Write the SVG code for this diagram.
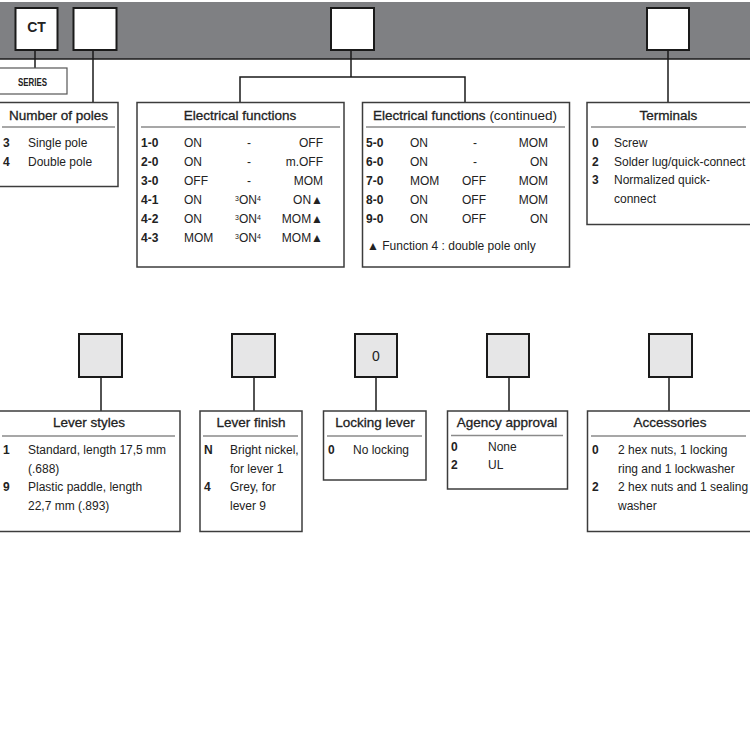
<svg xmlns="http://www.w3.org/2000/svg" width="750" height="750" viewBox="0 0 750 750">
<style>
.band{fill:#7f8083}
.topbox{fill:#fff;stroke:#1a1a1a;stroke-width:2}
.selbox{fill:#e6e6e7;stroke:#1a1a1a;stroke-width:2}
.panel{fill:#fff;stroke:#3c3c3c;stroke-width:1.5}
.rule{stroke:#8a8a8a;stroke-width:1.5}
.conn{stroke:#1a1a1a;stroke-width:1.5;fill:none}
text{font-family:"Liberation Sans",Arial,sans-serif;fill:#222;font-size:12px}
.h{font-size:13.5px;text-anchor:middle;stroke:#222;stroke-width:0.3}
.lt{stroke:none}
.c{font-weight:bold}
.r{text-anchor:end}
.m{text-anchor:middle}
.sup{font-size:7px}
</style>
<rect class="band" x="0" y="2" width="750" height="57"/>
<line x1="0" y1="59" x2="750" y2="59" stroke="#1a1a1a" stroke-width="1.5"/>

<g id="connectors">
<line class="conn" x1="35" y1="50" x2="35" y2="68"/>
<line class="conn" x1="93" y1="50" x2="93" y2="102.5"/>
<line class="conn" x1="351" y1="50" x2="351" y2="77"/>
<path class="conn" d="M240,102.5 V77 H465 V102.5"/>
<line class="conn" x1="668" y1="50" x2="668" y2="102.5"/>
<line class="conn" x1="101" y1="377" x2="101" y2="411"/>
<line class="conn" x1="254" y1="377" x2="254" y2="411"/>
<line class="conn" x1="376" y1="377" x2="376" y2="411"/>
<line class="conn" x1="509" y1="377" x2="509" y2="411"/>
<line class="conn" x1="669" y1="377" x2="669" y2="411"/>
</g>

<g id="box-ct"><rect class="topbox" x="15.5" y="8" width="42" height="42"/><text x="36.5" y="32" class="c m" style="font-size:14px">CT</text></g>
<g id="box-poles"><rect class="topbox" x="73.5" y="8" width="43" height="42"/></g>
<g id="box-functions"><rect class="topbox" x="331" y="8" width="43" height="42"/></g>
<g id="box-terminals"><rect class="topbox" x="647" y="8" width="42" height="42"/></g>

<g id="series"><rect x="-1" y="68" width="68" height="26" fill="#fff" stroke="#555" stroke-width="1.2"/><text x="32.5" y="85.5" class="c m" style="font-size:10.5px" textLength="29" lengthAdjust="spacingAndGlyphs">SERIES</text></g>

<g id="number-of-poles">
<rect class="panel" x="-2" y="102.5" width="120" height="84"/>
<text x="58.5" y="120" class="h">Number of poles</text>
<line class="rule" x1="2" y1="127" x2="115" y2="127"/>
<text x="3" y="147" class="c">3</text><text x="28" y="147">Single pole</text>
<text x="3" y="166" class="c">4</text><text x="28" y="166">Double pole</text>
</g>

<g id="electrical-functions">
<rect class="panel" x="137" y="102.5" width="207" height="164.5"/>
<text x="240" y="120" class="h">Electrical functions</text>
<line class="rule" x1="141" y1="127" x2="340" y2="127"/>
<text x="141" y="147" class="c">1-0</text><text x="184" y="147">ON</text><text x="249" y="147" class="m">-</text><text x="323" y="147" class="r">OFF</text>
<text x="141" y="166" class="c">2-0</text><text x="184" y="166">ON</text><text x="249" y="166" class="m">-</text><text x="323" y="166" class="r">m.OFF</text>
<text x="141" y="185" class="c">3-0</text><text x="184" y="185">OFF</text><text x="249" y="185" class="m">-</text><text x="323" y="185" class="r">MOM</text>
<text x="141" y="204" class="c">4-1</text><text x="184" y="204">ON</text><text x="248" y="204" class="m"><tspan class="sup" dy="-3">3</tspan><tspan dy="3">ON</tspan><tspan class="sup" dy="-3">4</tspan></text><text x="323" y="204" class="r">ON▲</text>
<text x="141" y="223" class="c">4-2</text><text x="184" y="223">ON</text><text x="248" y="223" class="m"><tspan class="sup" dy="-3">3</tspan><tspan dy="3">ON</tspan><tspan class="sup" dy="-3">4</tspan></text><text x="323" y="223" class="r">MOM▲</text>
<text x="141" y="242" class="c">4-3</text><text x="184" y="242">MOM</text><text x="248" y="242" class="m"><tspan class="sup" dy="-3">3</tspan><tspan dy="3">ON</tspan><tspan class="sup" dy="-3">4</tspan></text><text x="323" y="242" class="r">MOM▲</text>
</g>

<g id="electrical-functions-continued">
<rect class="panel" x="362.5" y="102.5" width="207" height="164.5"/>
<text x="465" y="120" class="h">Electrical functions <tspan class="lt">(continued)</tspan></text>
<line class="rule" x1="366" y1="127" x2="565" y2="127"/>
<text x="366" y="147" class="c">5-0</text><text x="410" y="147">ON</text><text x="475" y="147" class="m">-</text><text x="548" y="147" class="r">MOM</text>
<text x="366" y="166" class="c">6-0</text><text x="410" y="166">ON</text><text x="475" y="166" class="m">-</text><text x="548" y="166" class="r">ON</text>
<text x="366" y="185" class="c">7-0</text><text x="410" y="185">MOM</text><text x="474" y="185" class="m">OFF</text><text x="548" y="185" class="r">MOM</text>
<text x="366" y="204" class="c">8-0</text><text x="410" y="204">ON</text><text x="474" y="204" class="m">OFF</text><text x="548" y="204" class="r">MOM</text>
<text x="366" y="223" class="c">9-0</text><text x="410" y="223">ON</text><text x="474" y="223" class="m">OFF</text><text x="548" y="223" class="r">ON</text>
<text x="367" y="250">▲ Function 4 : double pole only</text>
</g>

<g id="terminals">
<rect class="panel" x="587" y="102.5" width="170" height="122"/>
<text x="668.5" y="120" class="h">Terminals</text>
<line class="rule" x1="591" y1="127" x2="746" y2="127"/>
<text x="592" y="147" class="c">0</text><text x="614" y="147">Screw</text>
<text x="592" y="165.5" class="c">2</text><text x="614" y="165.5">Solder lug/quick-connect</text>
<text x="592" y="184" class="c">3</text><text x="614" y="184">Normalized quick-</text>
<text x="614" y="202.5">connect</text>
</g>

<g id="lever-styles">
<rect class="selbox" x="79" y="334" width="43" height="43"/>
<rect class="panel" x="-2" y="411" width="182" height="120.5"/>
<text x="89" y="427" class="h">Lever styles</text>
<line class="rule" x1="2" y1="436" x2="175" y2="436"/>
<text x="3" y="454" class="c">1</text><text x="28" y="454">Standard, length 17,5 mm</text>
<text x="28" y="472.5">(.688)</text>
<text x="3" y="491" class="c">9</text><text x="28" y="491">Plastic paddle, length</text>
<text x="28" y="509.5">22,7 mm (.893)</text>
</g>

<g id="lever-finish">
<rect class="selbox" x="232" y="334" width="43" height="43"/>
<rect class="panel" x="200" y="411" width="102" height="120.5"/>
<text x="251" y="427" class="h">Lever finish</text>
<line class="rule" x1="203" y1="436" x2="298" y2="436"/>
<text x="204" y="454" class="c">N</text><text x="230" y="454">Bright nickel,</text>
<text x="230" y="472.5">for lever 1</text>
<text x="204" y="491" class="c">4</text><text x="230" y="491">Grey, for</text>
<text x="230" y="509.5">lever 9</text>
</g>

<g id="locking-lever">
<rect class="selbox" x="355" y="334" width="42" height="43"/>
<text x="376" y="361" class="m" style="font-size:14px">0</text>
<rect class="panel" x="323.5" y="411" width="102.5" height="69"/>
<text x="375" y="427" class="h">Locking lever</text>
<line class="rule" x1="327" y1="436" x2="422" y2="436"/>
<text x="328" y="454" class="c">0</text><text x="353" y="454">No locking</text>
</g>

<g id="agency-approval">
<rect class="selbox" x="487" y="334" width="42" height="43"/>
<rect class="panel" x="447.5" y="411" width="120" height="78"/>
<text x="507" y="427" class="h">Agency approval</text>
<line class="rule" x1="451" y1="435.5" x2="563" y2="435.5"/>
<text x="451" y="450.5" class="c">0</text><text x="488" y="450.5">None</text>
<text x="451" y="469" class="c">2</text><text x="488" y="469">UL</text>
</g>

<g id="accessories">
<rect class="selbox" x="649" y="334" width="43" height="43"/>
<rect class="panel" x="587.5" y="411" width="170" height="120.5"/>
<text x="670" y="427" class="h">Accessories</text>
<line class="rule" x1="591" y1="436" x2="746" y2="436"/>
<text x="592" y="454" class="c">0</text><text x="618" y="454">2 hex nuts, 1 locking</text>
<text x="618" y="472.5">ring and 1 lockwasher</text>
<text x="592" y="491" class="c">2</text><text x="618" y="491">2 hex nuts and 1 sealing</text>
<text x="618" y="509.5">washer</text>
</g>
</svg>
